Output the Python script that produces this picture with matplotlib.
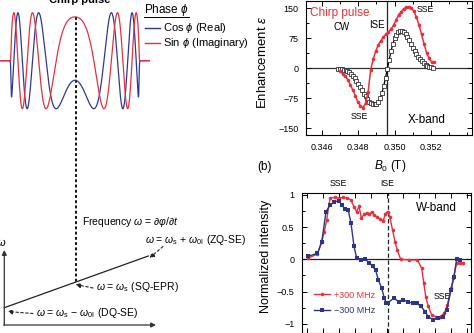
import numpy as np
import matplotlib
matplotlib.use("Agg")
import matplotlib.pyplot as plt
from matplotlib.ticker import MultipleLocator, FixedLocator

plt.rcParams['font.family'] = ['Liberation Sans', 'DejaVu Sans']
plt.rcParams['mathtext.fontset'] = 'custom'
plt.rcParams['mathtext.rm'] = 'Liberation Sans'
plt.rcParams['mathtext.it'] = 'Liberation Sans:italic'
plt.rcParams['mathtext.bf'] = 'Liberation Sans:bold'
plt.rcParams['axes.unicode_minus'] = True

# ---------------- data ----------------
# chirp pulse schematic (phase phi(t) = phi0 + rate * t^2, |t| <= 1)
chirp_phase0 = 1.99
chirp_rate = 13.3

# X-band enhancement (top right)
chirp_field = [0.34700, 0.34714, 0.34728, 0.34742, 0.34756, 0.34770, 0.34784, 0.34798,
               0.34812, 0.34826, 0.34840, 0.34854, 0.34868, 0.34882, 0.34896, 0.34910,
               0.34924, 0.34938, 0.34952, 0.34966, 0.34980, 0.34994, 0.35008, 0.35022,
               0.35036, 0.35050, 0.35064, 0.35078, 0.35092, 0.35106, 0.35120, 0.35134,
               0.35148, 0.35162, 0.35176, 0.35190, 0.35204, 0.35218]
chirp_enh = [-8, -15, -21, -29, -42, -55, -70, -85, -95, -99, -88, -60, -5, 22, 42, 58,
             68, 77, 84, 90, 97, 107, 120, 133, 141, 148, 152, 153, 150, 142, 127, 108,
             85, 60, 38, 24, 15, 14]

cw_field = [0.3469, 0.3470, 0.3471, 0.3472, 0.3473, 0.3474, 0.3475, 0.3476, 0.3477, 0.3478,
            0.3479, 0.3480, 0.3481, 0.3482, 0.3483, 0.3484, 0.3485, 0.3486, 0.3487, 0.3488,
            0.3489, 0.3490, 0.3491, 0.3492, 0.3493, 0.3494, 0.3495, 0.3496, 0.3497, 0.3498,
            0.3499, 0.3500, 0.3501, 0.3502, 0.3503, 0.3504, 0.3505, 0.3506, 0.3507, 0.3508,
            0.3509, 0.3510, 0.3511, 0.3512, 0.3513, 0.3514, 0.3515, 0.3516, 0.3517, 0.3518,
            0.3519, 0.3520, 0.3521]
cw_enh = [-2, -3, -3, -4, -5, -7, -10, -14, -19, -25, -32, -40, -48, -56, -64, -71, -78,
          -84, -88, -90, -91, -89, -84, -75, -62, -45, -24, -2, 20, 42, 60, 74, 83, 89, 92,
          92, 89, 84, 77, 69, 60, 51, 43, 35, 28, 22, 17, 12, 8, 5, 3, 2, 1]
ise_field = 0.3496

# W-band (bottom right), x in tick units
plus_x = [0.08, 0.65, 0.92, 1.08, 1.23, 1.44, 1.75, 2.02, 2.27, 2.52, 2.75, 2.94, 3.10,
          3.25, 3.40, 3.58, 3.73, 3.90, 4.06, 4.21, 4.40, 4.56, 4.77, 4.90, 5.04, 5.17,
          5.35, 5.50, 5.65, 5.85, 6.40, 6.90, 7.17, 7.30, 7.42, 7.58, 7.79, 8.04, 8.31,
          8.58, 8.77, 9.00, 9.15, 9.35, 9.56, 9.77]
plus_y = [0.02, 0.08, 0.27, 0.43, 0.61, 0.95, 0.96, 0.95, 0.96, 0.95, 0.92, 0.81, 0.74,
          0.82, 0.64, 0.70, 0.72, 0.70, 0.74, 0.68, 0.65, 0.62, 0.60, 0.71, 0.74, 0.66,
          0.45, 0.27, 0.14, 0.00, -0.01, -0.01, -0.14, -0.37, -0.58, -0.73, -0.86, -0.89,
          -0.89, -0.84, -0.71, -0.45, -0.29, -0.06, -0.06, -0.06]
minus_x = [0.08, 0.65, 0.92, 1.19, 1.44, 1.71, 2.00, 2.17, 2.38, 2.58, 2.75, 2.94, 3.10,
           3.38, 3.63, 3.88, 4.10, 4.29, 4.46, 4.67, 4.83, 4.94, 5.08, 5.44, 5.73, 6.02,
           6.33, 6.60, 6.85, 7.13, 7.38, 7.58, 7.90, 8.21, 8.48, 8.73, 9.00, 9.19, 9.35, 9.56]
minus_y = [0.05, 0.09, 0.27, 0.74, 0.84, 0.89, 0.91, 0.84, 0.78, 0.76, 0.56, 0.20, 0.02,
           -0.01, 0.00, -0.05, -0.11, -0.17, -0.32, -0.45, -0.60, -0.67, -0.67, -0.60,
           -0.66, -0.63, -0.66, -0.68, -0.68, -0.73, -0.81, -0.89, -0.94, -0.91, -0.89,
           -0.79, -0.48, -0.27, 0.00, -0.01]
ise_x = 5.04

# ---------------- figure ----------------
W, H = 474, 333
fig = plt.figure(figsize=(W / 100, H / 100), dpi=100)

def fr(x0, y0, x1, y1):
    return [x0 / W, 1 - y1 / H, (x1 - x0) / W, (y1 - y0) / H]

RED = '#e8303c'
BLUE = '#2b358c'
PBLUE = '#2e3a90'

# overlay in pixel coordinates for schematic annotations
ax0 = fig.add_axes([0, 0, 1, 1], zorder=0)
ax0.set_xlim(0, W)
ax0.set_ylim(H, 0)
ax0.axis('off')

# chirp pulse
axp = fig.add_axes(fr(0, 0, 150, 121.4), zorder=1)
axp.patch.set_alpha(0)
t = np.linspace(-75 / 64, 75 / 64, 3000)
win = 0.5 * (1 + np.tanh((1 - np.abs(t)) / 0.006))
phi = chirp_phase0 + chirp_rate * t ** 2
axp.plot(t, win * np.cos(phi), color=PBLUE, lw=0.9)
axp.plot(t, win * np.sin(phi), color=RED, lw=0.9)
axp.set_xlim(-75 / 64, 75 / 64)
axp.set_ylim(-60.7 / 48, 60.7 / 48)
axp.axis('off')

ax0.text(80, 3, 'Chirp pulse', ha='center', va='baseline', fontsize=8, fontweight='bold')
ax0.text(144, 10, r'Phase $\phi$', ha='left', va='center', fontsize=8.5)
ax0.plot([144, 189], [16.5, 16.5], color='k', lw=0.7)
ax0.plot([145, 160], [28, 28], color=PBLUE, lw=1.0)
ax0.plot([145, 160], [43, 43], color=RED, lw=1.0)
ax0.text(163, 28, r'Cos $\phi$ (Real)', ha='left', va='center', fontsize=8)
ax0.text(163, 43, r'Sin $\phi$ (Imaginary)', ha='left', va='center', fontsize=8)

# schematic frequency diagram
ax0.plot([76, 76], [17, 282], color='k', lw=1.3, linestyle=(0, (1.6, 1.3)))
ax0.annotate('', xy=(4.3, 250), xytext=(4.3, 325.5),
             arrowprops=dict(arrowstyle='-|>', lw=0.9, color='#333', mutation_scale=7,
                             shrinkA=0, shrinkB=0))
ax0.annotate('', xy=(156, 325), xytext=(3.8, 325),
             arrowprops=dict(arrowstyle='-|>', lw=0.9, color='#333', mutation_scale=7,
                             shrinkA=0, shrinkB=0))
ax0.plot([4.3, 148.3], [307.7, 256], color='#222', lw=0.9)
ax0.text(1.5, 242, r'$\omega$', ha='center', va='center', fontsize=8)
ax0.text(82, 222, r'Frequency $\omega$ = $\partial\varphi/\partial t$', ha='left',
         va='center', fontsize=7.5)
ax0.text(145, 240, r'$\omega$ = $\omega_{\rm s}$ + $\omega_{\rm 0I}$ (ZQ-SE)', ha='left',
         va='center', fontsize=7.5)
ax0.text(96, 287, r'$\omega$ = $\omega_{\rm s}$ (SQ-EPR)', ha='left', va='center', fontsize=7.5)
ax0.text(36, 313, r'$\omega$ = $\omega_{\rm s}$ $-$ $\omega_{\rm 0I}$ (DQ-SE)', ha='left',
         va='center', fontsize=7.5)
for start, tip in [((163, 246.5), (149.5, 258)), ((93, 288), (75.5, 284.5)),
                   ((33, 313.5), (7.5, 311.5))]:
    ax0.annotate('', xy=tip, xytext=start,
                 arrowprops=dict(arrowstyle='-|>', lw=0.8, color='#222',
                                 linestyle=(0, (2.2, 2.2)), mutation_scale=7,
                                 shrinkA=0, shrinkB=0))

# right column labels
ax0.text(263, 62, r'Enhancement $\varepsilon$', rotation=90, ha='center', va='center',
         fontsize=9.5)
ax0.text(265, 167, '(b)', ha='center', va='center', fontsize=8.5)
ax0.text(390, 166.5, r'$B_0$ (T)', ha='center', va='center', fontsize=8.5)
ax0.text(266, 256, 'Normalized intensity', rotation=90, ha='center', va='center', fontsize=9)
ax0.text(338, 183, 'SSE', ha='center', va='center', fontsize=6.3)
ax0.text(387, 183, 'ISE', ha='center', va='center', fontsize=6.3)

# ---------------- top right: X-band ----------------
ax1 = fig.add_axes(fr(306, 0.5, 472, 135), zorder=2)
ax1.axhline(0, color='#333', lw=0.9, zorder=1)
ax1.axvline(ise_field, color='#222', lw=0.9, zorder=1)
ax1.plot(cw_field, cw_enh, '-s', color='k', mfc='white', mec='#222', ms=2.2, mew=0.55,
         lw=0.9, zorder=3)
ax1.plot(chirp_field, chirp_enh, '-o', color=RED, ms=2.6, mew=0, lw=1.1, zorder=4)
ax1.set_xlim(0.34512, 0.35426)
ax1.set_ylim(-167.5, 168.75)
ax1.xaxis.set_major_locator(FixedLocator([0.346, 0.348, 0.350, 0.352]))
ax1.xaxis.set_minor_locator(MultipleLocator(0.001))
ax1.xaxis.set_major_formatter(plt.FuncFormatter(lambda v, p: f'{v:.3f}'))
ax1.yaxis.set_major_locator(FixedLocator([-150, -75, 0, 75, 150]))
ax1.yaxis.set_minor_locator(MultipleLocator(37.5))
ax1.tick_params(which='both', direction='in', top=True, right=True, labelsize=6.5,
                width=0.7, pad=5.5)
ax1.tick_params(which='major', length=3.5)
ax1.tick_params(which='minor', length=2.2)
for s in ax1.spines.values():
    s.set_linewidth(0.8)
ax1.text(0.34534, 137, 'Chirp pulse', color=RED, ha='left', va='center', fontsize=8.5)
ax1.text(0.3471, 102, 'CW', ha='center', va='center', fontsize=7)
ax1.text(0.34905, 107, 'ISE', ha='center', va='center', fontsize=7)
ax1.text(0.35167, 147, 'SSE', ha='center', va='center', fontsize=6.3)
ax1.text(0.34806, -120, 'SSE', ha='center', va='center', fontsize=6.3)
ax1.text(0.35177, -130, 'X-band', ha='center', va='center', fontsize=8.5)

# ---------------- bottom right: W-band ----------------
ax2 = fig.add_axes(fr(302, 193, 471, 332.5), zorder=2)
ax2.axhline(0, color='#222', lw=0.9, zorder=1)
ax2.axvline(ise_x, color='#222', lw=0.9, linestyle=(0, (3.5, 2)), zorder=1)
l1, = ax2.plot(plus_x, plus_y, '-o', color=RED, ms=2.6, mew=0, lw=1.0, label='+300 MHz',
               zorder=3)
l2, = ax2.plot(minus_x, minus_y, '-s', color=BLUE, ms=2.4, mew=0, lw=1.0,
               label='\u2212300 MHz', zorder=4)
ax2.set_xlim(-0.3125, 10.25)
ax2.set_ylim(-1.135, 1.028)
ax2.xaxis.set_major_locator(MultipleLocator(1))
ax2.yaxis.set_major_locator(FixedLocator([-1, -0.5, 0, 0.5, 1]))
ax2.yaxis.set_minor_locator(MultipleLocator(0.25))
ax2.yaxis.set_major_formatter(plt.FuncFormatter(
    lambda v, p: {1: '1', 0.5: '0.5', 0: '0', -0.5: '\u22120.5', -1: '\u22121'}.get(v, '')))
ax2.tick_params(which='both', direction='in', top=True, right=True, labelsize=6.5,
                width=0.7, pad=5.5)
ax2.tick_params(which='major', length=3.5)
ax2.tick_params(which='minor', length=2.2)
ax2.tick_params(axis='x', labelbottom=False)
for s in ax2.spines.values():
    s.set_linewidth(0.8)
ax2.text(8.06, 0.79, 'W-band', ha='center', va='center', fontsize=8.5)
ax2.text(8.45, -0.57, 'SSE', ha='center', va='center', fontsize=6.3)
ax2.legend(handles=[l1, l2], loc='upper left', bbox_to_anchor=(314 / W, 1 - 290.5 / H),
           bbox_transform=fig.transFigure, frameon=False, fontsize=6.5, handlelength=1.8,
           handletextpad=0.4, labelspacing=0.75, borderpad=0, borderaxespad=0,
           numpoints=1, labelcolor='linecolor')

fig.savefig('out.png', dpi=100)
